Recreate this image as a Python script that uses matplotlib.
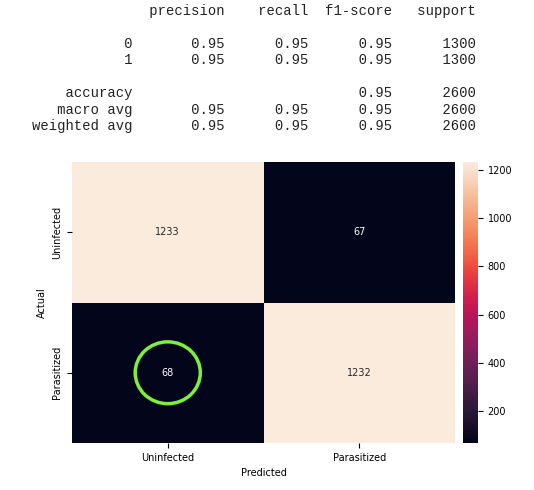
import numpy as np
import matplotlib.pyplot as plt
import seaborn as sns
from matplotlib.patches import Ellipse

labels = ['Uninfected', 'Parasitized']
cm = np.array([[1233, 67], [68, 1232]])
classes = ['0', '1']
precision = [0.95, 0.95]
recall = [0.95, 0.95]
f1 = [0.95, 0.95]
support = [1300, 1300]
accuracy = 0.95
total = 2600

# build the sklearn-style report text
lines = [f"{'':>12} {'precision':>10}{'recall':>10}{'f1-score':>10}{'support':>10}", ""]
for c, p, r, f, s in zip(classes, precision, recall, f1, support):
    lines.append(f"{c:>12} {p:>10.2f}{r:>10.2f}{f:>10.2f}{s:>10d}")
lines.append("")
lines.append(f"{'accuracy':>12} {'':>10}{'':>10}{accuracy:>10.2f}{total:>10d}")
lines.append(f"{'macro avg':>12} {np.mean(precision):>10.2f}{np.mean(recall):>10.2f}{np.mean(f1):>10.2f}{total:>10d}")
lines.append(f"{'weighted avg':>12} {np.mean(precision):>10.2f}{np.mean(recall):>10.2f}{np.mean(f1):>10.2f}{total:>10d}")
report = "\n".join(lines)

fig = plt.figure(figsize=(5.34, 4.9), dpi=100)
fig.text(32 / 534, 1 - 4 / 490, report, family='Liberation Mono', fontsize=10,
         va='top', ha='left', linespacing=1.22, color='#222222')

ax = fig.add_axes([72 / 534, 1 - 443 / 490, 383 / 534, 281 / 490])
cax = fig.add_axes([463 / 534, 1 - 443 / 490, 15 / 534, 281 / 490])
sns.heatmap(cm, annot=True, fmt='d', cmap='rocket', ax=ax, cbar_ax=cax,
            xticklabels=labels, yticklabels=labels, annot_kws={'fontsize': 7})
ax.set_xlabel('Predicted', fontsize=7)
ax.set_ylabel('Actual', fontsize=7)
ax.tick_params(labelsize=7)
cax.tick_params(labelsize=7)
cax.set_yticks([200, 400, 600, 800, 1000, 1200])

ax.add_patch(Ellipse((0.5, 1.5), 0.34, 0.44, fill=False, edgecolor='#7cf03a', lw=2.5))

fig.savefig('out.png', dpi=100)
